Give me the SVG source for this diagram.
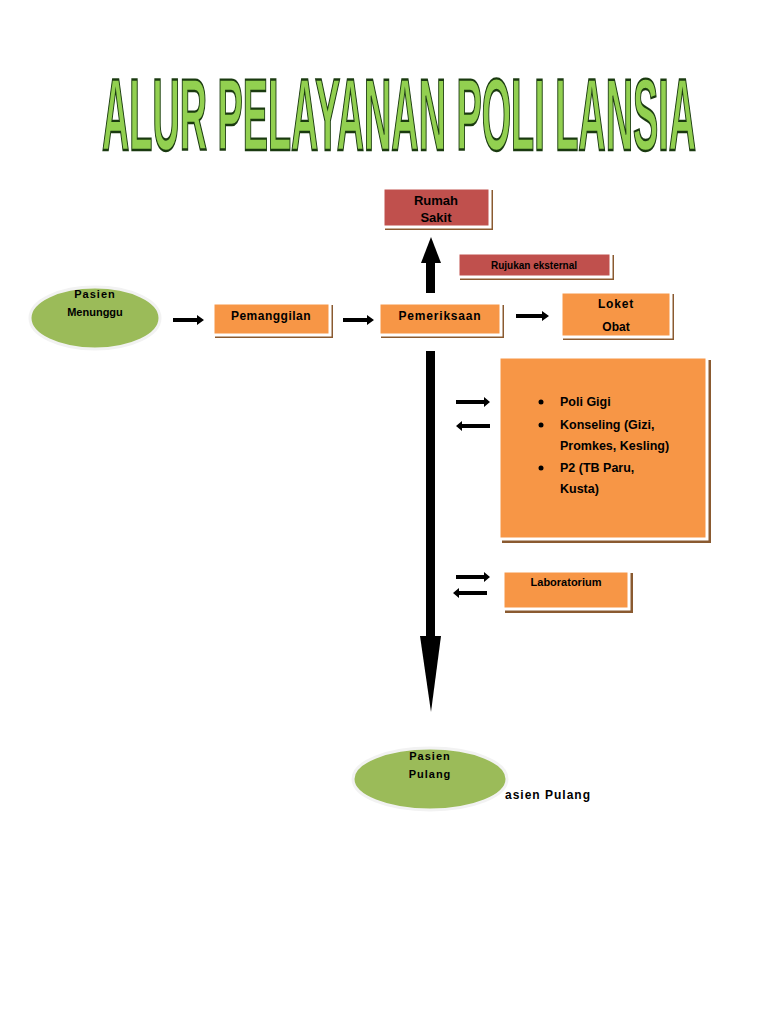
<svg xmlns="http://www.w3.org/2000/svg" width="768" height="1024" viewBox="0 0 768 1024">
<style>
.t{font-family:"Liberation Sans",Arial,sans-serif;font-weight:bold;fill:#000}
.o{fill:#f79646;stroke:#fff;stroke-width:3}
.r{fill:#c0504d;stroke:#fff;stroke-width:3}
.g{fill:#9bbb59;stroke:#f2f2f2;stroke-width:3}
.sh{fill:#8a5a30}
</style>
<rect width="768" height="1024" fill="#fff"/>
<g id="title"><text x="0" y="0" text-anchor="middle" textLength="594" lengthAdjust="spacingAndGlyphs" transform="translate(399,150) scale(1,1.6)" style="font-family:'Liberation Sans',Arial,sans-serif;font-weight:bold;font-size:64px;fill:#92d050;stroke:#1a3a10;stroke-width:1.5">ALUR PELAYANAN POLI LANSIA</text></g>
<g id="rumah-sakit"><rect x="385" y="190" width="108" height="40" class="sh"/><rect x="383" y="188" width="107" height="39" class="r"/><text class="t" x="436" y="205" text-anchor="middle" font-size="13">Rumah</text><text class="t" x="436" y="222" text-anchor="middle" font-size="13">Sakit</text></g>
<g id="rujukan"><rect x="460" y="255" width="154" height="25" class="sh"/><rect x="458" y="253" width="153" height="24" class="r"/><text class="t" x="534" y="269" text-anchor="middle" font-size="10">Rujukan eksternal</text></g>
<g id="pasien-menunggu"><ellipse cx="95" cy="318" rx="65" ry="31" class="g"/><text class="t" x="95" y="298" text-anchor="middle" font-size="11" letter-spacing="1">Pasien</text><text class="t" x="95" y="316" text-anchor="middle" font-size="11">Menunggu</text></g>
<g id="pemanggilan"><rect x="215" y="305" width="118" height="33" class="sh"/><rect x="213" y="303" width="117" height="32" class="o"/><text class="t" x="271" y="320" text-anchor="middle" font-size="12" letter-spacing="0.5">Pemanggilan</text></g>
<g id="pemeriksaan"><rect x="381" y="305" width="123" height="33" class="sh"/><rect x="379" y="303" width="122" height="32" class="o"/><text class="t" x="440" y="320" text-anchor="middle" font-size="12" letter-spacing="0.8">Pemeriksaan</text></g>
<g id="loket-obat"><rect x="563" y="294" width="111" height="46" class="sh"/><rect x="561" y="292" width="110" height="45" class="o"/><text class="t" x="616" y="308" text-anchor="middle" font-size="12" letter-spacing="0.8">Loket</text><text class="t" x="616" y="331" text-anchor="middle" font-size="12">Obat</text></g>
<g id="poli"><rect x="502" y="360" width="209" height="183" class="sh"/><rect x="499" y="357" width="208" height="182" class="o"/>
<g class="t" font-size="12.5"><circle cx="541" cy="402" r="2.5"/><text x="560" y="406">Poli Gigi</text><circle cx="541" cy="425" r="2.5"/><text x="560" y="429">Konseling (Gizi,</text><text x="560" y="450">Promkes, Kesling)</text><circle cx="541" cy="468" r="2.5"/><text x="560" y="472">P2 (TB Paru,</text><text x="560" y="493">Kusta)</text></g></g>
<g id="lab"><rect x="505" y="573" width="128" height="40" class="sh"/><rect x="503" y="571" width="126" height="38" class="o"/><text class="t" x="566" y="586" text-anchor="middle" font-size="11">Laboratorium</text></g>
<g id="pasien-pulang"><ellipse cx="430" cy="779" rx="77" ry="31" class="g"/><text class="t" x="430" y="760" text-anchor="middle" font-size="11" letter-spacing="1">Pasien</text><text class="t" x="430" y="778" text-anchor="middle" font-size="11" letter-spacing="1">Pulang</text></g>
<text class="t" x="505" y="799" font-size="12" letter-spacing="1">asien  Pulang</text>
<g id="connectors" fill="#000">
<rect x="426" y="262" width="9" height="31"/><path d="M421,263L431,237L441,263z"/>
<path d="M173,318h24v-3l7,5l-7,5v-3h-24z"/>
<path d="M343,318h24v-3l7,5l-7,5v-3h-24z"/>
<path d="M516,314h26v-3l7,5l-7,5v-3h-26z"/>
<rect x="426" y="351" width="9" height="285"/><path d="M420,636L441,636L431,712z"/>
<path d="M456,400h28v-3l6,5l-6,5v-3h-28z"/>
<path d="M490,424h-28v-3l-6,5l6,5v-3h28z"/>
<path d="M456,575h28v-3l6,5l-6,5v-3h-28z"/>
<path d="M487,591h-28v-3l-6,5l6,5v-3h28z"/>
</g>
</svg>
